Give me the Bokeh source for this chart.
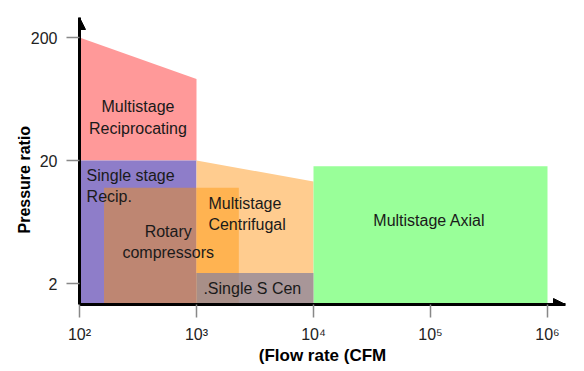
import math
from bokeh.plotting import figure
from bokeh.models import FixedTicker, Arrow, NormalHead, ColumnDataSource, Title
from bokeh.core.properties import value
from bokeh.embed import file_html
from bokeh.resources import INLINE

# ---- data ----
x_ticks = [1e2, 1e3, 1e4, 1e5, 1e6]
x_tick_labels = ["10²", "10³", "10⁴", "10⁵", "10⁶"]
y_ticks = [2, 20, 200]
y_tick_labels = ["2", "20", "200"]

x_min, x_max = 1e2, 1.425e6
y_min, y_max = 1.35, 291

# regions (polygons in flow rate / pressure ratio)
recip_multi_x = [100, 1000, 1000, 100]
recip_multi_y = [200, 92, 20, 20]
recip_single_x = [100, 1000, 1000, 100]
recip_single_y = [20, 20, y_min, y_min]
centrif_multi_x = [1000, 10000, 10000, 1000]
centrif_multi_y = [20, 13.5, 2.43, 2.43]
centrif_single_x = [1000, 10000, 10000, 1000]
centrif_single_y = [2.43, 2.43, y_min, y_min]
axial_x = [10000, 1e6, 1e6, 10000]
axial_y = [18, 18, y_min, y_min]
rotary_x = [162, 2300, 2300, 162]
rotary_y = [12, 12, y_min, y_min]

region_colors = ["#FF9999", "#8E7DC9", "#FFCC8F", "#99FF99"]
rotary_color = "#FF9200"
single_cen_color = "#998486"

labels = ["Multistage\nReciprocating", "Single stage\nRecip.", "Rotary\ncompressors",
          "Multistage\nCentrifugal", ".Single S Cen", "Multistage Axial"]
label_x = [316, 115, 573, 1264, 1146, 97700]
label_y = [44.7, 12.4, 4.36, 7.33, 1.81, 6.52]
label_align = ["center", "left", "center", "left", "left", "center"]

x_title = "(Flow rate (CFM"
y_title = "Pressure ratio"

p = figure(width=582, height=370, x_axis_type="log", y_axis_type="log",
           x_range=(x_min, x_max), y_range=(y_min, y_max),
           output_backend="svg", toolbar_location=None,
           min_border_left=79, min_border_right=17, min_border_top=17, min_border_bottom=66)
p.outline_line_color = None
p.xgrid.visible = False
p.ygrid.visible = False
p.background_fill_color = "white"

xs = [recip_multi_x, recip_single_x, centrif_multi_x, axial_x]
ys = [recip_multi_y, recip_single_y, centrif_multi_y, axial_y]
p.patches(xs, ys, fill_color=region_colors, line_color=None)
# rotary compressors: translucent overlay
p.patch(rotary_x, rotary_y, fill_color=rotary_color, fill_alpha=0.43, line_color=None)
# single stage centrifugal drawn above, nearly opaque
p.patch(centrif_single_x, centrif_single_y, fill_color=single_cen_color, fill_alpha=0.85,
        line_color=None)

src = ColumnDataSource(dict(x=label_x, y=label_y, t=labels, a=label_align))
p.text(x="x", y="y", text="t", source=src, text_align="a", text_baseline="middle",
       text_font=value("Liberation Sans"), text_font_size="16px", text_color="#1a1a1a",
       text_line_height=1.25)

for ax in (p.xaxis[0], p.yaxis[0]):
    ax.axis_line_color = "black"
    ax.axis_line_width = 3
    ax.major_tick_line_color = "#888888"
    ax.major_tick_line_width = 1.5
    ax.major_tick_out = 13
    ax.major_tick_in = 0
    ax.minor_tick_line_color = None
    ax.major_label_text_font = "Liberation Sans"
    ax.major_label_text_font_size = "16px"
    ax.major_label_text_color = "#222222"

p.xaxis.ticker = FixedTicker(ticks=x_ticks, minor_ticks=[])
p.yaxis.ticker = FixedTicker(ticks=y_ticks, minor_ticks=[])
p.xaxis.major_label_overrides = {t: l for t, l in zip(x_ticks, x_tick_labels)}
p.yaxis.major_label_overrides = {t: l for t, l in zip(y_ticks, y_tick_labels)}
p.xaxis.major_label_standoff = 8
p.yaxis.major_label_standoff = 9

p.xaxis.axis_label = x_title
p.xaxis.axis_label_standoff = 0
p.xaxis.axis_label_text_font = "Liberation Sans"
p.xaxis.axis_label_text_font_size = "17px"
p.xaxis.axis_label_text_font_style = "bold"
p.xaxis.axis_label_text_color = "black"

p.add_layout(Title(text=y_title, align="left", offset=71, standoff=-10,
                   text_font="Liberation Sans", text_font_size="16px",
                   text_font_style="bold", text_color="black"), "left")

# arrow heads on the axes
p.add_layout(Arrow(end=NormalHead(size=12, fill_color="black", line_color="black"),
                   x_start=x_ticks[-1], y_start=y_min, x_end=x_max, y_end=y_min, line_alpha=0))
p.add_layout(Arrow(end=NormalHead(size=12, fill_color="black", line_color="black"),
                   x_start=x_min, y_start=y_ticks[-1], x_end=x_min, y_end=y_max, line_alpha=0))

open("out.html", "w").write(file_html(p, INLINE))
